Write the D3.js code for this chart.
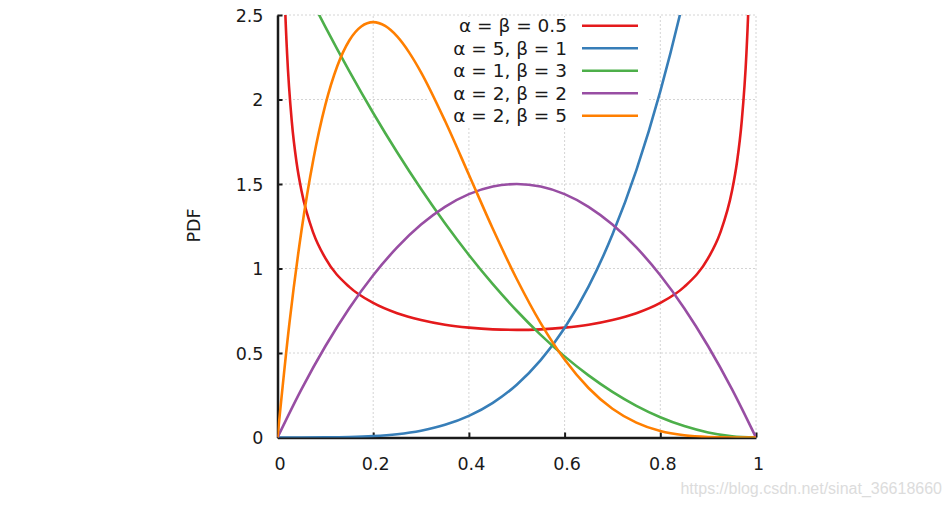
<!DOCTYPE html>
<html>
<head>
<meta charset="utf-8">
<script src="https://cdn.jsdelivr.net/npm/d3@7"></script>
<style>
  html, body { margin: 0; padding: 0; background: #fff; }
  svg { display: block; }
  text { font-family: "DejaVu Sans", sans-serif; }
</style>
</head>
<body>
<svg id="chart" width="952" height="507"></svg>
<script>
// ---- data ----
const xTicks = [0, 0.2, 0.4, 0.6, 0.8, 1];
const xTickLabels = ["0", "0.2", "0.4", "0.6", "0.8", "1"];
const yTicks = [0, 0.5, 1, 1.5, 2, 2.5];
const yTickLabels = ["0", "0.5", "1", "1.5", "2", "2.5"];
const seriesNames = ["α = β = 0.5", "α = 5, β = 1", "α = 1, β = 3", "α = 2, β = 2", "α = 2, β = 5"];
const seriesColors = ["#e41a1c", "#377eb8", "#4daf4a", "#984ea3", "#ff7f00"];

const xs = [0,0.05,0.1,0.15,0.2,0.25,0.3,0.35,0.4,0.45,0.5,0.55,0.6,0.65,0.7,0.75,0.8,0.85,0.9,0.95,1];
const yBlue   = [0,0.00003,0.0005,0.0025,0.008,0.0195,0.0405,0.075,0.128,0.205,0.3125,0.4575,0.648,0.8925,1.2005,1.582,2.048,2.61,3.2805,4.073,5];
const yGreen  = [3,2.7075,2.43,2.1675,1.92,1.6875,1.47,1.2675,1.08,0.9075,0.75,0.6075,0.48,0.3675,0.27,0.1875,0.12,0.0675,0.03,0.0075,0];
const yPurple = [0,0.285,0.54,0.765,0.96,1.125,1.26,1.365,1.44,1.485,1.5,1.485,1.44,1.365,1.26,1.125,0.96,0.765,0.54,0.285,0];

const xsRed = [0.01,0.016,0.02,0.03,0.04,0.05,0.075,0.1,0.15,0.2,0.25,0.3,0.35,0.4,0.45,0.5,0.55,0.6,0.65,0.7,0.75,0.8,0.85,0.9,0.925,0.95,0.96,0.97,0.98,0.984,0.99];
const yRed  = [3.199,2.537,2.274,1.866,1.624,1.461,1.209,1.061,0.891,0.796,0.735,0.695,0.667,0.650,0.640,0.637,0.640,0.650,0.667,0.695,0.735,0.796,0.891,1.061,1.209,1.461,1.624,1.866,2.274,2.537,3.199];

const xsOrange = [0,0.025,0.05,0.075,0.1,0.125,0.15,0.175,0.2,0.225,0.25,0.275,0.3,0.35,0.4,0.45,0.5,0.55,0.6,0.65,0.7,0.75,0.8,0.85,0.9,0.95,1];
const yOrange  = [0,0.678,1.222,1.647,1.968,2.198,2.349,2.432,2.458,2.435,2.373,2.279,2.161,1.874,1.555,1.235,0.938,0.677,0.461,0.293,0.170,0.088,0.038,0.013,0.003,0.0002,0];

const yLabel = "PDF";
const watermark = "https://blog.csdn.net/sinat_36618660";

// ---- build ----
const series = [
  { x: xsRed, y: yRed },
  { x: xs, y: yBlue },
  { x: xs, y: yGreen },
  { x: xs, y: yPurple },
  { x: xsOrange, y: yOrange }
].map((s, i) => ({ name: seriesNames[i], color: seriesColors[i], pts: s.x.map((v, j) => [v, s.y[j]]) }));

const svg = d3.select("#chart");
const X0 = 277.5, X1 = 756, Y0 = 437.5, Y1 = 15;
const x = d3.scaleLinear().domain([0, 1]).range([X0, X1]);
const y = d3.scaleLinear().domain([0, 2.5]).range([Y0, Y1]);
const ink = "#1a1a1a";
const fs = "17.5px";

// grid
const grid = svg.append("g").attr("stroke", "#a8a8a8").attr("stroke-width", 1).attr("stroke-dasharray", "1,3");
grid.selectAll(".gx").data(xTicks.slice(1)).join("line")
  .attr("x1", d => x(d)).attr("x2", d => x(d)).attr("y1", Y0).attr("y2", Y1);
grid.selectAll(".gy").data(yTicks.slice(1)).join("line")
  .attr("x1", X0).attr("x2", X1).attr("y1", d => y(d)).attr("y2", d => y(d));

// opaque legend box
svg.append("rect").attr("x", 427).attr("y", 17).attr("width", 222).attr("height", 110).attr("fill", "#fff");

// curves
svg.append("clipPath").attr("id", "clip").append("rect")
  .attr("x", X0).attr("y", Y1).attr("width", X1 - X0).attr("height", Y0 - Y1);
const line = d3.line().x(d => x(d[0])).y(d => y(d[1])).curve(d3.curveMonotoneX);

// axes
const axX = svg.append("g").attr("transform", `translate(0,${Y0})`)
  .call(d3.axisBottom(x).tickValues(xTicks).tickFormat((d, i) => xTickLabels[i]).tickSizeInner(-5).tickSizeOuter(0).tickPadding(20));
const axY = svg.append("g").attr("transform", `translate(${X0},0)`)
  .call(d3.axisLeft(y).tickValues(yTicks).tickFormat((d, i) => yTickLabels[i]).tickSizeInner(-5).tickSizeOuter(0).tickPadding(14));
[axX, axY].forEach(a => {
  a.select(".domain").attr("stroke", ink).attr("stroke-width", 2.5);
  a.selectAll(".tick line").attr("stroke", ink).attr("stroke-width", 2);
  a.selectAll(".tick text").attr("fill", ink).style("font-family", "DejaVu Sans").style("font-size", fs);
});
axX.selectAll(".tick text").attr("dx", "2");
axY.selectAll(".tick text").attr("dy", "0.36em");

const cg = svg.append("g").attr("clip-path", "url(#clip)");
cg.selectAll("path").data(series).join("path")
  .attr("d", d => line(d.pts)).attr("fill", "none")
  .attr("stroke", d => d.color).attr("stroke-width", 2.6).attr("stroke-linejoin", "round");

// legend
const lg = svg.append("g");
const rowY = i => 25.7 + i * 22.5;
lg.selectAll("text").data(series).join("text")
  .attr("x", 567).attr("y", (d, i) => rowY(i)).attr("dy", "0.36em")
  .attr("text-anchor", "end").attr("fill", ink).style("font-size", "18.5px").text(d => d.name);
lg.selectAll("line").data(series).join("line")
  .attr("x1", 582).attr("x2", 638).attr("y1", (d, i) => rowY(i)).attr("y2", (d, i) => rowY(i))
  .attr("stroke", d => d.color).attr("stroke-width", 2.6);

// y label
svg.append("text").attr("transform", "translate(194,225.5) rotate(-90)")
  .attr("text-anchor", "middle").attr("dy", "0.36em").attr("fill", ink).style("font-size", fs).text(yLabel);

// watermark
svg.append("text").attr("x", 942).attr("y", 494).attr("text-anchor", "end")
  .attr("fill", "#dcdcdc").style("font-family", "Liberation Sans, Arial, sans-serif").style("font-size", "16px").text(watermark);
</script>
</body>
</html>
